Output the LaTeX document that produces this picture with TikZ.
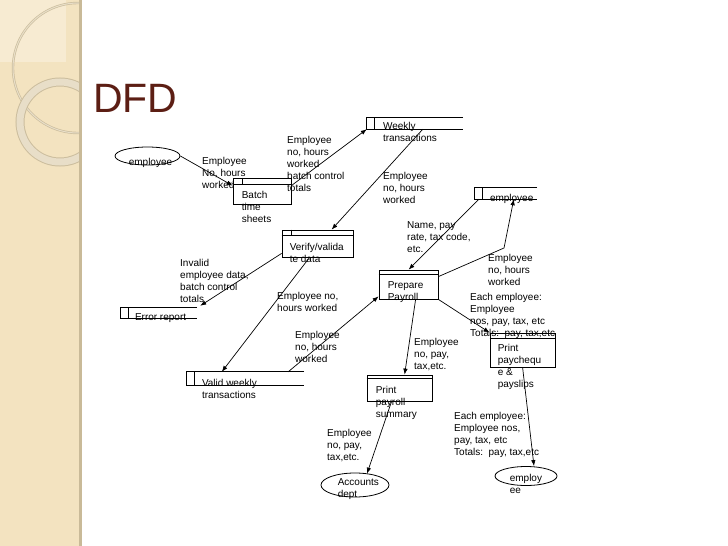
\documentclass[tikz,border=0pt]{standalone}
\usepackage{fontspec}
\setmainfont{Liberation Sans}
\usepackage{xcolor}
\usetikzlibrary{arrows.meta,calc,shapes.geometric}

\definecolor{panel}{RGB}{243,227,192}
\definecolor{panellight}{RGB}{247,235,210}
\definecolor{paneledge}{RGB}{201,186,152}
\definecolor{ring}{RGB}{232,222,200}
\definecolor{ringedge}{RGB}{204,190,158}
\definecolor{titlered}{RGB}{92,30,20}

\begin{document}
\begin{tikzpicture}[
        x=1pt, y=-1pt,
        font=\fontsize{10}{12}\selectfont,
        proc/.style={draw, line width=0.8pt, inner sep=0pt},
        store/.style={inner sep=0pt},
        ent/.style={draw, ellipse, line width=0.8pt, inner sep=0pt},
        txt/.style={align=left, inner sep=0pt, anchor=north west},
        arr/.style={-{Latex[length=6pt,width=4.5pt]}, line width=0.7pt}
    ]
    \useasboundingbox (0,0) rectangle (728,546);
    % slide background
    \fill[white] (0,0) rectangle (728,546);
    \fill[panel] (0,0) rectangle (80,546);
    \fill[panellight] (0,0) rectangle (66,62);
    \begin{scope}
        \clip (0,0) rectangle (79,546);
        \draw[ringedge, line width=2.4pt] (78,68) circle (65);
        \draw[ring, line width=1pt] (78,68) circle (65);
        \draw[ringedge, line width=9pt] (60,122) circle (40);
        \draw[ring, line width=7pt] (60,122) circle (40);
    \end{scope}
    \fill[paneledge] (79,0) rectangle (82,546);
    \node[anchor=base west, inner sep=0pt, text=titlered, font=\fontsize{41}{41}\selectfont] (title) at (93,112) {DFD};

    % entities
    \node[ent, minimum width=65, minimum height=18] (emp1) at (147.5,156) {};
    \node[ent, minimum width=68, minimum height=24] (acc) at (355,485) {};
    \node[ent, minimum width=62, minimum height=19] (emp2) at (526,476) {};
    \node[txt] (emp1txt) at ($(emp1.west)+(14,2)$) {employee};
    \node[txt] (acctxt) at ($(acc.west)+(17,-7)$) {Accounts\\dept};
    \node[txt] (emp2txt) at ($(emp2.west)+(15,-2)$) {employ\\ee};

    % processes
    \node[proc, minimum width=58, minimum height=26] (batch) at (262,191) {};
    \node[proc, minimum width=71, minimum height=27] (ver) at (317.5,243.5) {};
    \node[proc, minimum width=59, minimum height=29] (pp) at (408.5,284.5) {};
    \node[proc, minimum width=65, minimum height=26] (pps) at (399.5,388) {};
    \node[proc, minimum width=65, minimum height=34] (ppc) at (522.5,350) {};
    \foreach \b/\h in {batch/7, ver/6, pp/5, pps/4, ppc/6}
        \draw[line width=0.8pt] ($(\b.north west)+(0,\h)$) -- ($(\b.north east)+(0,\h)$);
    \foreach \b/\h in {batch/7, ver/6}
        \draw[line width=0.8pt] ($(\b.north west)+(10,0)$) -- ($(\b.north west)+(10,\h)$);
    \node[txt] (battxt) at ($(batch.north west)+(9,13)$) {Batch\\time\\sheets};
    \node[txt] (vertxt) at ($(ver.north west)+(8,13)$) {Verify/valida\\te data};
    \node[txt] (pptxt) at ($(pp.north west)+(9,12)$) {Prepare\\Payroll};
    \node[txt] (ppstxt) at ($(pps.north west)+(9,11)$) {Print\\payroll\\summary};
    \node[txt] (ppctxt) at ($(ppc.north west)+(8,11)$) {Print\\paychequ\\e \&\\payslips};

    % data stores
    \node[store, minimum width=96, minimum height=11] (wt) at (415,123.5) {};
    \node[store, minimum width=76, minimum height=10] (err) at (159,313) {};
    \node[store, minimum width=117, minimum height=13] (vwt) at (245.5,378.5) {};
    \node[store, minimum width=62, minimum height=11] (es) at (506,193.5) {};
    \foreach \s in {wt, err, vwt, es} {
        \draw[line width=0.8pt] (\s.north east) -- (\s.north west) -- (\s.south west) -- (\s.south east);
        \draw[line width=0.8pt] ($(\s.north west)+(8,0)$) -- ($(\s.south west)+(8,0)$);
    }
    \node[txt] (wttxt) at ($(wt.north west)+(16,4)$) {Weekly\\transactions};
    \node[txt] (errtxt) at ($(err.north west)+(14,6)$) {Error report};
    \node[txt] (vwttxt) at ($(vwt.north west)+(15,7)$) {Valid weekly\\transactions};
    \node[txt] (estxt) at ($(es.north west)+(15,6)$) {employee};

    % flows
    \coordinate (bend) at (504,248);
    \draw[arr] (emp1.east) -- ($(batch.north west)+(0,8)$);
    \draw[arr] ($(batch.north east)+(0,8)$) -- (wt.south west);
    \draw[arr] ($(wt.south west)+(56,0)$) -- ($(ver.north west)+(50,0)$);
    \draw[arr] ($(ver.south west)+(0,-4)$) -- ($(err.north east)+(3,-2)$);
    \draw[arr] ($(ver.south west)+(28,0)$) -- ($(vwt.north west)+(35,0)$);
    \draw[arr] ($(vwt.north east)+(-16,0)$) -- ($(pp.south west)+(0,-3)$);
    \draw[arr] ($(es.south west)+(4,0)$) -- ($(pp.north west)+(30,0)$);
    \draw[arr] ($(pp.north east)+(0,7)$) -- (bend) -- ($(es.south west)+(39,0)$);
    \draw[arr] ($(pp.south west)+(37,0)$) -- ($(pps.north west)+(38,0)$);
    \draw[arr] ($(pps.south west)+(25,0)$) -- ($(acc.north)+(12,1)$);
    \draw[arr] (pp.south east) -- (ppc.north west);
    \draw[arr] ($(ppc.south west)+(33,0)$) -- ($(emp2.north)+(8,0)$);

    % flow labels
    \node[txt] (l1) at (202,157) {Employee\\No, hours\\worked};
    \node[txt] (l2) at (287,136) {Employee\\no, hours\\worked\\batch control\\totals};
    \node[txt] (l3) at (383,172) {Employee\\no, hours\\worked};
    \node[txt] (l4) at (407,221) {Name, pay\\rate, tax code,\\etc.};
    \node[txt] (l5) at (180,259) {Invalid\\employee data,\\batch control\\totals};
    \node[txt] (l6) at (277,292) {Employee no,\\hours worked};
    \node[txt] (l7) at (295,331) {Employee\\no, hours\\worked};
    \node[txt] (l8) at (488,254) {Employee\\no, hours\\worked};
    \node[txt] (l9) at (470,293) {Each employee:\\Employee\\nos, pay, tax, etc\\Totals:\ \ pay, tax,etc};
    \node[txt] (l10) at (414,338) {Employee\\no, pay,\\tax,etc.};
    \node[txt] (l11) at (327,429) {Employee\\no, pay,\\tax,etc.};
    \node[txt] (l12) at (454,412) {Each employee:\\Employee nos,\\pay, tax, etc\\Totals:\ \ pay, tax,etc};
\end{tikzpicture}
\end{document}
